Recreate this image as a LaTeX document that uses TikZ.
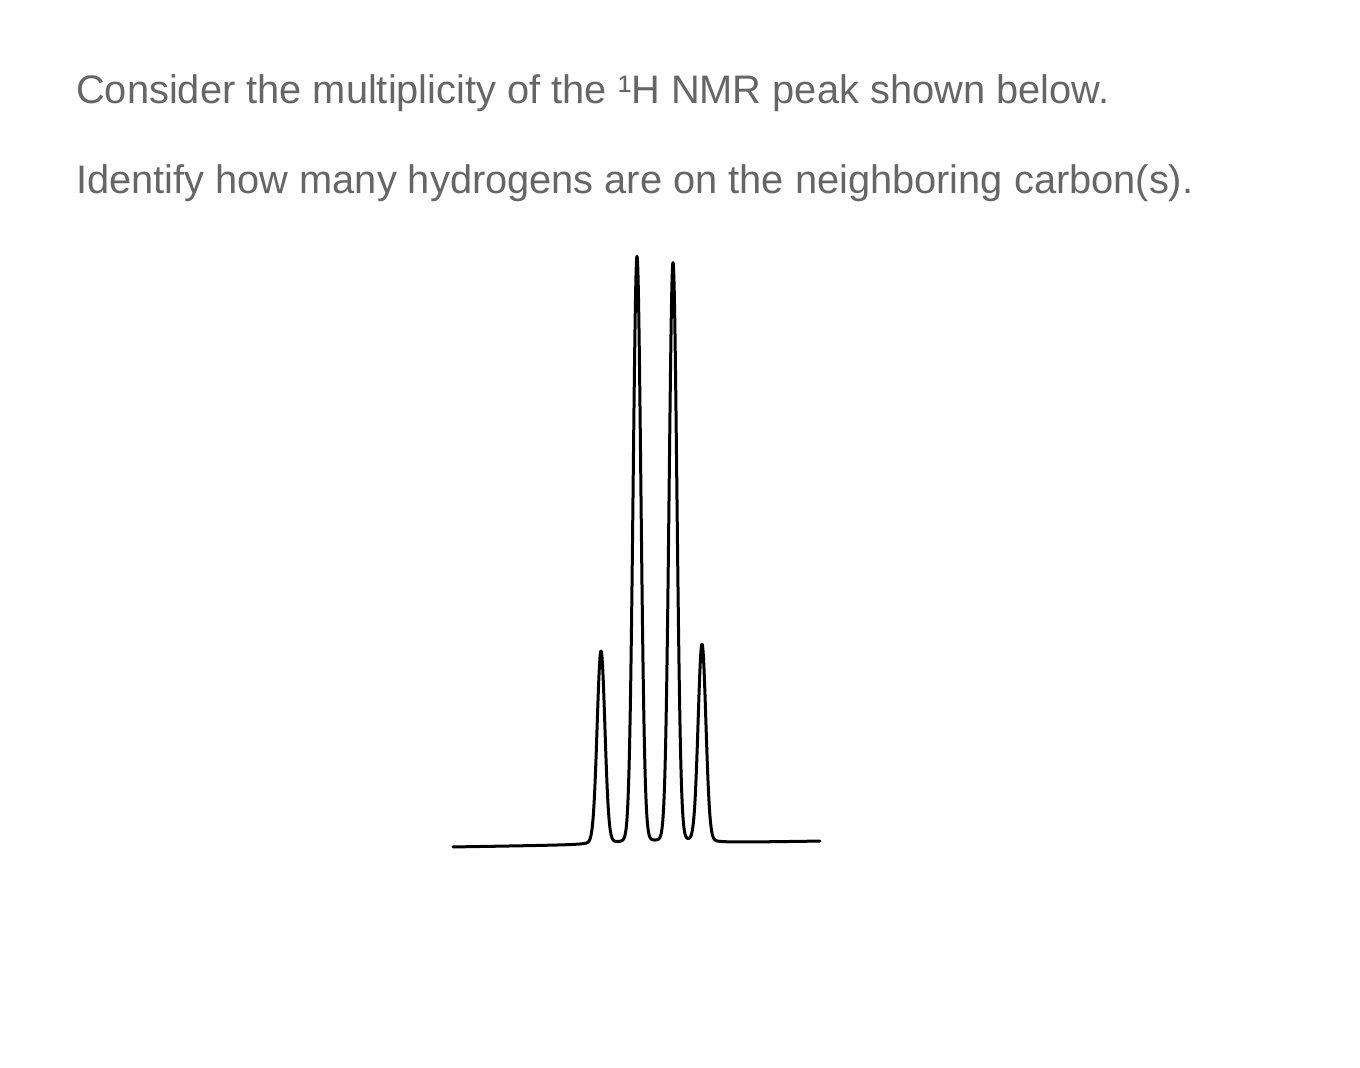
\documentclass[tikz,border=0pt]{standalone}
\usepackage{fontspec}
\setmainfont{Liberation Sans}
\definecolor{txt}{HTML}{666666}
\tikzset{qtext/.style={anchor=base west,inner sep=0pt,text=txt,font=\fontsize{39.8}{46}\selectfont}}
\begin{document}
\begin{tikzpicture}[x=1pt,y=-1pt]
\useasboundingbox (0,0) rectangle (1360,1068);
\node[qtext] (q1) at (76,103) {Consider the multiplicity of the ¹H NMR peak shown below.};
\node[qtext] (q2) at (76,193) {Identify how many hydrogens are on the neighboring carbon(s).};
\draw[line width=3pt,line join=round,line cap=round] plot[domain=-19.7:17,samples=1000,smooth]
 ({\x*10+650},{847-(\x+19.7)*0.16
  -193*(0.95*exp(-(\x+4.9)*(\x+4.9)/0.3)+0.05*0.36/((\x+4.9)*(\x+4.9)+0.36))
  -587*(0.97*exp(-(\x+1.3)*(\x+1.3)/0.3)+0.03*0.36/((\x+1.3)*(\x+1.3)+0.36))
  -580*(0.97*exp(-(\x-2.3)*(\x-2.3)/0.3)+0.03*0.36/((\x-2.3)*(\x-2.3)+0.36))
  -198*(0.95*exp(-(\x-5.2)*(\x-5.2)/0.3)+0.05*0.36/((\x-5.2)*(\x-5.2)+0.36))});
\end{tikzpicture}
\end{document}
